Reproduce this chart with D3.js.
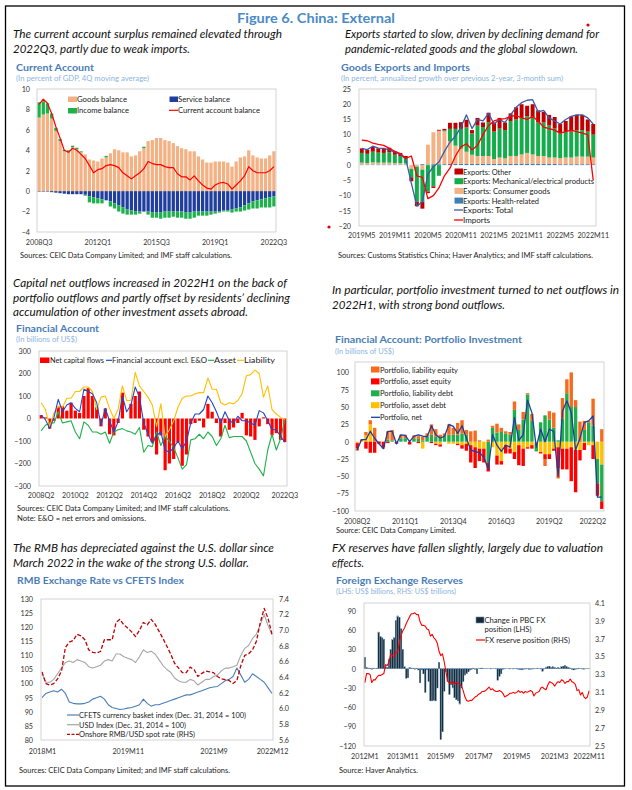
<!DOCTYPE html>
<html><head><meta charset="utf-8">
<script src="https://cdn.jsdelivr.net/npm/d3@7"></script>
<style>body{margin:0;background:#fff}</style>
</head><body>
<script>
// ================= DATA =================
function quarterLabels(y,q,n){const a=[];for(let i=0;i<n;i++){a.push(y+"Q"+q);q++;if(q>4){q=1;y++;}}return a;}
function monthLabels(y,m,n){const a=[];for(let i=0;i<n;i++){a.push(y+"M"+m);m++;if(m>12){m=1;y++;}}return a;}

// Current account (2008Q3-2022Q3), % of GDP
const caCats = quarterLabels(2008,3,57);
const caGoods = [7.2,7.5,7.6,7.1,5.9,4.9,3.9,3.8,4.3,4.1, 3.8,3.6,3.1,3.0,2.9,3.2,3.3,3.7,4.1,4.0, 3.8,3.8,3.4,3.5,3.9,4.2,4.9,5.0,5.2,5.2, 5.0,4.9,4.7,4.4,4.2,4.1,3.9,3.9,3.4,3.1, 2.8,2.8,2.9,2.9,2.9,2.8,2.4,2.9,3.3,3.4, 4.0,3.5,3.3,3.2,3.2,3.5,3.9];
const caService = [-0.05,-0.05,-0.05,-0.1,-0.15,-0.2,-0.25,-0.3,-0.3,-0.3, -0.3,-0.35,-0.5,-0.6,-0.7,-0.8,-0.9,-1.0,-1.2,-1.4, -1.6,-1.8,-1.9,-2.0,-2.0,-2.0,-2.0,-2.1,-2.1,-2.1, -2.0,-2.0,-2.0,-2.0,-2.0,-2.1,-2.1,-2.0,-2.0,-2.0, -2.0,-2.0,-2.0,-2.0,-1.9,-1.9,-1.8,-1.7,-1.6,-1.4, -1.2,-1.0,-0.9,-0.8,-0.7,-0.6,-0.5];
const caIncome = [1.5,1.3,1.0,0.5,0.3,0.2,0.15,0.2,0.15,0.15, 0.1,-0.1,-0.6,-0.6,-0.5,-0.4,0.15,-0.5,-0.5,-0.6, -0.6,-0.5,-0.4,-0.3,-0.2,0.15,-0.3,-0.5,-0.5,-0.6, -0.6,-0.6,-0.5,-0.6,-0.6,-0.6,-0.6,-0.6,-0.4,-0.4, -0.4,-0.3,-0.2,-0.1,-0.1,-0.1,-0.3,-0.3,-0.4,-0.5, -0.6,-0.7,-0.8,-0.8,-0.9,-1.0,-1.0];
const caBalance = [8.5,9.0,8.6,7.6,6.3,5.2,4.0,3.8,4.2,4.0, 3.6,3.2,2.5,1.8,2.1,2.2,2.5,2.6,2.5,2.3, 1.8,1.5,1.2,1.5,1.8,2.2,2.9,2.7,2.6,2.6, 2.4,2.3,2.3,1.7,1.4,1.4,1.1,1.5,1.0,0.6, 0.3,0.2,0.6,0.8,0.85,0.7,0.2,0.6,1.0,1.5, 2.4,2.0,1.8,1.8,1.8,2.0,2.4];
const caYTicks = [-4,-2,0,2,4,6,8,10];

// Goods exports and imports (2019M5-2022M11), %
const exCats = monthLabels(2019,5,43);
const exHealth = [0.2,0.2,0.2,0.2,0.2,0.2,0.2,0.2,0.2,0.0, 0.1,0.3,0.2,0.3,0.3,0.3,0.4,0.4,0.4,0.4, 0.4,0.4,0.4,0.4,0.4,0.4,0.4,0.4,0.4,0.5, 0.5,0.5,0.5,0.4,0.4,0.4,0.3,0.3,0.3,0.3, 0.3,0.3,0.3];
const exConsumer = [0.6,0.5,0.7,0.6,0.6,0.6,0.5,0.4,0.3,-1.2, -0.5,-1.5,6.5,10.5,11.0,10.8,7.5,6.0,5.0,4.0, 3.0,2.6,2.6,2.6,1.6,2.1,1.8,2.6,2.6,3.0, 3.5,3.0,2.5,2.6,2.1,2.1,2.0,2.2,2.2,2.5, 2.5,2.5,2.2];
const exMech = [3.2,3.0,3.5,3.3,3.2,3.4,2.7,2.4,1.8,-2.8, -11.5,-10.5,-8.7,-7.0,-3.5,0.3,4.0,5.5,6.5,8.0, 7.0,10.0,9.5,11.0,9.0,9.5,9.3,11.5,12.0,12.0, 12.0,12.0,11.0,11.0,10.5,9.5,8.2,8.5,8.5,8.7, 8.7,8.2,7.5];
const exOther = [1.5,1.3,1.6,1.4,1.4,1.5,1.1,1.0,0.7,-1.3, -1.5,-2.3,-0.5,-0.5,0.3,0.5,2.0,2.0,2.2,2.5, 1.1,2.5,1.5,3.2,3.0,3.5,2.5,2.5,4.0,4.5, 3.5,4.5,4.0,3.5,3.5,3.8,3.0,3.5,5.0,5.0, 5.0,4.0,3.5];
const exTotal = [5.5,5.1,6.2,5.6,5.5,5.0,4.3,3.5,2.0,-6.0, -13.5,-12.0,-3.0,-0.5,1.0,4.5,7.5,9.5,12.5,16.5, 12.0,15.0,14.5,17.0,13.5,15.0,14.0,16.5,19.0,20.5, 21.3,21.5,17.5,18.0,15.5,14.5,13.5,15.0,16.0,16.5, 16.5,15.5,13.5];
const imTotal = [8.2,8.0,7.2,6.8,6.5,5.5,4.5,3.8,2.2,3.0, -3.5,-4.0,-11.0,-10.0,-7.5,-3.5,-1.0,3.0,6.0,7.0, 5.0,6.5,10.0,13.0,14.5,15.0,15.3,16.0,16.3,15.5, 15.0,16.0,14.5,12.5,12.0,11.5,10.5,11.0,11.5,11.0, 10.5,10.0,-5.0];
const exYTicks = [-20,-15,-10,-5,0,5,10,15,20,25];

// Financial account (2008Q2-2022Q3), US$ bn
const faCats = quarterLabels(2008,2,58);
const faNetFlows = [15,5,-45,-10,50,55,35,70,35,25, 100,135,100,50,-35,45,-70,-75,-20,115, 0,65,100,120,-50,-80,-105,-160,-75,-230, -200,-180,-105,-210,-160,-25,-20,-10,-40,65, 30,-20,-80,-20,-50,-40,-20,25,-75,-80, -95,-35,5,-25,-75,-65,-95,-105];
const faExclEO = [15,-5,-45,5,85,30,60,70,45,30, 130,120,110,70,-30,45,-10,-60,-15,100, 30,60,140,95,-20,-70,-110,-75,-60,-140, -150,-130,-100,-135,-100,-20,20,20,40,100, 70,30,-20,30,-10,-20,10,-10,-10,-20, -30,35,25,-10,-50,-50,-80,-105];
const faAsset = [-55,-30,-20,-20,30,-20,-15,-10,-60,-90, -15,-30,-60,-60,-70,-60,-110,-60,-50,-45, -55,-60,-70,-40,-150,-120,-125,-60,-120,-80, -100,-130,-175,-225,-205,-95,-90,-70,-90,-60, -80,-120,-90,-30,-85,-80,-80,-80,-100,-150, -200,-225,-255,-140,-70,-140,-90,-5];
const faLiability = [70,40,-35,25,55,50,90,90,120,120, 140,140,120,40,95,100,45,0,40,145, 80,80,205,145,120,95,60,-35,65,-80, -50,-10,50,90,100,100,110,115,115,180, 130,130,70,60,70,65,80,110,190,195, 215,200,95,145,40,20,5,-5];
const faYTicks = [-300,-200,-100,0,100,200,300];

// Portfolio investment (2008Q2-2022Q2), US$ bn
const pfCats = quarterLabels(2008,2,57);
const pfLiabEquity = [-3,2,5,6,20,1,-2,12,15,0, 5,5,0,5,4,5,5,15,11,5, 4,15,10,17,19,7,15,16,2,0, 3,3,13,6,3,4,12,8,11,2, 10,0,0,-10,12,22,-15,30,20,50, 10,29,13,2,39,0,18];
const pfAssetEquity = [-8,0,-10,-16,-16,-3,-8,-2,0,-3, 0,0,-4,0,-2,0,0,-2,-2,-3, 0,0,0,-2,-5,-10,-25,-30,-18,-20, -13,0,-13,-5,-12,-7,-10,-29,-25,-2, -5,0,-2,-7,-7,-3,-30,-30,-30,-49, -61,-15,-10,0,-20,-18,-11];
const pfLiabDebt = [0,0,0,0,0,0,0,3,2,0, 5,5,0,4,4,2,7,10,7,5, 8,10,10,10,12,10,0,0,0,0, -30,20,13,14,12,10,46,17,32,68, 30,-12,28,38,32,20,2,33,70,50, 50,0,17,28,23,-35,-53];
const pfAssetDebt = [-2,1,9,25,0,0,0,0,0,0, 0,0,0,0,0,-10,0,0,-3,-4, 0,-3,-3,-3,-5,-3,-5,-8,-10,-10, 0,-8,-20,-28,-5,-10,-15,-5,-10,-8, -5,-2,-15,-18,-18,-10,-8,-10,-10,-8, -12,-12,-2,-5,-5,-25,-33];
const pfNet = [-12,3,3,15,5,-3,-10,15,15,-3, 10,9,0,8,10,8,7,23,10,5, 8,25,22,12,23,5,-12,-14,-16,-22, -40,10,-5,-14,-5,-8,35,2,10,60, 42,-8,18,0,18,15,-50,44,59,42, -12,5,28,30,37,-80,-80];
const pfYTicks = [-100,-75,-50,-25,0,25,50,75,100];

// RMB exchange rate (2018M1-2022M12), monthly
const rmbCats = monthLabels(2018,1,60);
const rmbCfets = [95.0,96.5,97.0,97.5,97.0,98.0,96.5,93.5,93.0,92.8, 92.8,93.0,93.5,94.5,95.0,95.5,94.5,92.5,91.5,91.2, 90.8,91.0,91.3,91.5,92.0,92.5,94.5,93.0,92.0,92.5, 92.5,93.0,93.5,94.0,94.5,95.0,95.5,96.0,96.0,96.5, 97.0,97.5,98.0,98.5,98.8,99.0,100.0,101.0,101.5,102.5, 105.5,103.0,100.5,101.5,103.5,102.5,101.5,100.5,98.5,96.5];
const rmbUsdIndex = [103.5,100.5,100.5,101.5,103.5,105.5,107.5,108.0,107.5,108.5, 108.0,107.5,106.0,105.5,106.0,106.5,108.0,108.5,108.0,110.5, 110.5,109.5,109.0,108.5,107.5,109.5,112.0,111.0,111.5,110.5, 108.5,106.5,105.0,104.0,102.0,101.0,100.5,100.5,101.5,101.0, 99.5,100.5,101.5,101.5,102.5,103.0,104.5,105.5,105.5,106.0, 106.5,110.0,112.5,113.5,116.0,117.5,121.0,124.5,120.5,117.5];
const rmbSpot = [6.47,6.32,6.30,6.32,6.38,6.48,6.78,6.85,6.87,6.95, 6.93,6.88,6.75,6.72,6.71,6.73,6.88,6.88,6.88,7.10, 7.14,7.07,7.03,6.98,6.92,7.00,7.10,7.07,7.14,7.08, 6.99,6.90,6.80,6.70,6.58,6.52,6.46,6.46,6.53,6.50, 6.41,6.45,6.48,6.47,6.46,6.41,6.38,6.37,6.36,6.32, 6.36,6.55,6.68,6.70,6.75,6.86,7.10,7.28,7.15,6.95];
const rmbLTicks = [80,85,90,95,100,105,110,115,120,125,130];
const rmbRTicks = [5.6,5.8,6.0,6.2,6.4,6.6,6.8,7.0,7.2,7.4];

// FX reserves (2012M1-2022M11)
const fxCats = monthLabels(2012,1,131);
const fxChange = [18,2,1,1,-1,1,0.5,1,57,50, 48,46,3,2,15,30,45,48,75,82, 80,62,30,3,-15,-14,2,1,1,-1,
  1,-2,-22,-2,-8,-37,-2,-20,-50,-50, -49,-50,-30,10,-110,-98,-35,-5,-20,-40, -25,-30,-45,-48,-50,-55,-30,-20,-10,-8, -5,-2,-1,
  1,-1,-8,0.5,1,1,0.5,0.5, 0.5,0.3,-0.5,0.5,0.3,-0.3,-18,-12,-8,-1, -0.5,0.3,0.3,-0.5,0.3,-0.5,0.5,-0.3,-1,-1.5,
  -2,-1,-0.5,-0.5,-1,-1,-0.5,-0.5,0.5,1, 0.5,-0.5,-4,-0.5,2,3,4,2,3,2, 1,2,1,3,4,5,3,2,1,-1, -2,-1,-0.5,1,0.5,-0.5,-1,0.5,0.5,0.5];
const fxReserves = [3.21,3.31,3.31,3.30,3.21,3.24,3.24,3.27,3.29,3.29,3.30,3.31,
  3.41,3.40,3.44,3.53,3.51,3.50,3.55,3.55,3.66,3.74,3.79,3.82,
  3.87,3.91,3.95,3.98,3.98,3.99,3.97,3.97,3.89,3.85,3.85,3.84,
  3.81,3.80,3.73,3.75,3.71,3.69,3.65,3.56,3.51,3.53,3.44,3.33,
  3.23,3.20,3.21,3.22,3.19,3.21,3.20,3.19,3.17,3.12,3.05,3.01,
  3.00,3.01,3.01,3.03,3.05,3.06,3.08,3.09,3.11,3.11,3.12,3.14,
  3.16,3.13,3.14,3.12,3.11,3.11,3.12,3.11,3.09,3.05,3.06,3.07,
  3.09,3.09,3.10,3.09,3.10,3.12,3.10,3.11,3.09,3.11,3.10,3.11,
  3.12,3.11,3.06,3.09,3.10,3.11,3.15,3.16,3.14,3.13,3.18,3.22,
  3.21,3.20,3.17,3.20,3.22,3.21,3.24,3.23,3.20,3.22,3.22,3.25,
  3.22,3.21,3.19,3.12,3.13,3.07,3.10,3.05,3.03,3.05,3.12];
const fxLTicks = [-120,-90,-60,-30,0,30,60,90];
const fxRTicks = [2.5,2.7,2.9,3.1,3.3,3.5,3.7,3.9,4.1];

// ================= DRAWING =================
const FONT = "Lato, 'Open Sans', sans-serif";
const svg = d3.select("body").append("svg").attr("width",632).attr("height",790).attr("font-family",FONT);
svg.append("rect").attr("width",632).attr("height",790).attr("fill","#fff");
svg.append("rect").attr("x",5.5).attr("y",6).attr("width",619).attr("height",780).attr("fill","none").attr("stroke","#000").attr("stroke-width",1.3);

function T(x,y,s,o={}){
  const t = svg.append("text").attr("x",x).attr("y",y).text(s)
    .attr("font-size",o.size||8).attr("fill",o.fill||"#222");
  if(o.weight) t.attr("font-weight",o.weight);
  if(o.italic) t.attr("font-style","italic");
  if(o.anchor) t.attr("text-anchor",o.anchor);
  if(o.w) t.attr("textLength",o.w).attr("lengthAdjust","spacingAndGlyphs");
  return t;
}
const NARR = {size:11.3, italic:true, fill:"#111"};
const TITLE = {size:10, weight:"bold", fill:"#4a7db6"};
const SUB = {size:6.8, fill:"#8db3df"};
const SRC = {size:7, fill:"#222"};
const LEG = {size:7.8, fill:"#222"};

function styleAxis(g){
  g.attr("font-family",FONT);
  g.select(".domain").remove();
  g.selectAll(".tick line").remove();
  g.selectAll("text").attr("font-size",7.2).attr("fill","#333");
}
function box(x0,y0,x1,y1){
  svg.append("rect").attr("x",x0).attr("y",y0).attr("width",x1-x0).attr("height",y1-y0)
    .attr("fill","none").attr("stroke","#c8c8c8").attr("stroke-width",0.8);
}
function stackBars(cats, rows, keys, colors, x, y){
  const series = d3.stack().keys(keys).offset(d3.stackOffsetDiverging)(rows);
  series.forEach((s,k)=>{
    svg.append("g").attr("fill",colors[k]).selectAll("rect").data(s).join("rect")
      .attr("x",(d,i)=>x(cats[i])).attr("width",x.bandwidth())
      .attr("y",d=>y(Math.max(d[0],d[1]))).attr("height",d=>Math.abs(y(d[0])-y(d[1])));
  });
}
function line(vals, xf, y, color, width, dash){
  const p = svg.append("path").datum(vals).attr("fill","none").attr("stroke",color)
    .attr("stroke-width",width).attr("stroke-linejoin","round")
    .attr("d", d3.line().x((d,i)=>xf(i)).y(d=>y(d)));
  if(dash) p.attr("stroke-dasharray",dash);
  return p;
}

// ---------- Title ----------
T(316,23,"Figure 6. China: External",{size:14,weight:"bold",fill:"#4a8ac6",anchor:"middle",w:158});

// ---------- Panel 1: Current Account ----------
T(13,38,"The current account surplus remained elevated through",{...NARR,w:269});
T(13,53,"2022Q3, partly due to weak imports.",{...NARR,w:177});
T(16,71,"Current Account",{...TITLE,w:78});
T(16,81,"(In percent of GDP, 4Q moving average)",{...SUB,w:133});
{
  const x = d3.scaleBand().domain(caCats).range([37,276]).paddingInner(0.22).paddingOuter(0.11);
  const y = d3.scaleLinear().domain([-4,10]).range([232,89]);
  const rows = caCats.map((c,i)=>({goods:caGoods[i],service:caService[i],income:caIncome[i]}));
  stackBars(caCats, rows, ["goods","service","income"], ["#f4b183","#1f3e9e","#1db14b"], x, y);
  line(caBalance, i=>x(caCats[i])+x.bandwidth()/2, y, "#ff0000", 1.2);
  box(37,89,276,232);
  svg.append("g").attr("transform","translate(37,0)").call(d3.axisLeft(y).tickValues(caYTicks).tickSize(0).tickPadding(7)).call(styleAxis);
  svg.append("g").attr("transform","translate(0,232)").call(d3.axisBottom(x).tickValues([0,14,28,42,56].map(i=>caCats[i])).tickSize(0).tickPadding(7.5)).call(styleAxis);
  svg.append("rect").attr("x",68).attr("y",96.5).attr("width",9).attr("height",5.5).attr("fill","#f4b183");
  T(77,101.5,"Goods balance",{...LEG,w:50});
  svg.append("rect").attr("x",169.5).attr("y",96.5).attr("width",8.5).attr("height",5.5).attr("fill","#1f3e9e");
  T(178,101.5,"Service balance",{...LEG,w:52});
  svg.append("rect").attr("x",68).attr("y",108).attr("width",9).attr("height",5.5).attr("fill","#1db14b");
  T(77,113,"Income balance",{...LEG,w:52});
  svg.append("line").attr("x1",169).attr("x2",178).attr("y1",110.3).attr("y2",110.3).attr("stroke","#ff0000").attr("stroke-width",1.2);
  T(178,113,"Current account balance",{...LEG,w:82});
}
T(20,258,"Sources: CEIC Data Company Limited; and IMF staff calculations.",{...SRC,w:212});

// ---------- Panel 2: Goods exports and imports ----------
T(345,38,"Exports started to slow, driven by declining demand for",{...NARR,w:254});
T(345,53,"pandemic-related goods and the global slowdown.",{...NARR,w:233});
T(341,71,"Goods Exports and Imports",{...TITLE,w:129});
T(341,81,"(In percent, annualized growth over previous 2-year, 3-month sum)",{...SUB,w:222});
{
  const x = d3.scaleBand().domain(exCats).range([359,596]).paddingInner(0.28).paddingOuter(0.14);
  const y = d3.scaleLinear().domain([-20,25]).range([226,89]);
  const rows = exCats.map((c,i)=>({h:exHealth[i],c:exConsumer[i],m:exMech[i],o:exOther[i]}));
  const cols = ["#3f7fb3","#f4b183","#13ad4b","#c00000"];
  stackBars(exCats, rows, ["h","c","m","o"], cols, x, y);
  const xc = i=>x(exCats[i])+x.bandwidth()/2;
  line(exTotal, xc, y, "#3b5ca8", 1.3);
  line(imTotal, xc, y, "#ff0000", 1.3);
  box(359,89,596,226);
  svg.append("g").attr("transform","translate(359,0)").call(d3.axisLeft(y).tickValues(exYTicks).tickSize(0).tickPadding(8)).call(styleAxis);
  svg.append("g").attr("transform","translate(0,226)").call(d3.axisBottom(x).tickValues([0,6,12,18,24,30,36,42].map(i=>exCats[i])).tickSize(0).tickPadding(6.5)).call(styleAxis);
  const leg = [["Exports: Other",cols[3],48],["Exports: Mechanical/electrical products",cols[2],131],["Exports: Consumer goods",cols[1],87],["Exports: Health-related",cols[0],76]];
  leg.forEach((d,k)=>{
    svg.append("rect").attr("x",454.5).attr("y",168.5+k*9.7).attr("width",8.5).attr("height",6).attr("fill",d[1]);
    T(463,174.5+k*9.7,d[0],{...LEG,size:7.6,w:d[2]});
  });
  svg.append("line").attr("x1",454).attr("x2",463).attr("y1",210).attr("y2",210).attr("stroke","#3b5ca8").attr("stroke-width",1.3);
  T(463,213,"Exports: Total",{...LEG,size:7.6,w:50});
  svg.append("line").attr("x1",454).attr("x2",463).attr("y1",220).attr("y2",220).attr("stroke","#ff0000").attr("stroke-width",1.3);
  T(463,223,"Imports",{...LEG,size:7.6,w:27});
}
T(338,258,"Sources: Customs Statistics China; Haver Analytics; and IMF staff calculations.",{...SRC,w:255});
svg.append("circle").attr("cx",588).attr("cy",25).attr("r",1.6).attr("fill","#e00000");
svg.append("circle").attr("cx",329).attr("cy",227).attr("r",1.6).attr("fill","#e00000");

// ---------- Panel 3: Financial Account ----------
T(13,287,"Capital net outflows increased in 2022H1 on the back of",{...NARR,w:274});
T(13,302,"portfolio outflows and partly offset by residents\u2019 declining",{...NARR,w:277});
T(13,316,"accumulation of other investment assets abroad.",{...NARR,w:235});
T(16,332,"Financial Account",{...TITLE,w:83});
T(16,342,"(In billions of US$)",{...SUB,w:61});
{
  const x = d3.scaleBand().domain(faCats).range([39,287]).paddingInner(0.25).paddingOuter(0.125);
  const y = d3.scaleLinear().domain([-300,300]).range([486,351]);
  svg.append("g").attr("fill","#ff0000").selectAll("rect").data(faNetFlows).join("rect")
    .attr("x",(d,i)=>x(faCats[i])).attr("width",x.bandwidth())
    .attr("y",d=>y(Math.max(0,d))).attr("height",d=>Math.abs(y(d)-y(0)));
  const xc = i=>x(faCats[i])+x.bandwidth()/2;
  line(faAsset, xc, y, "#21b04b", 1.1);
  line(faLiability, xc, y, "#ffc000", 1.1);
  line(faExclEO, xc, y, "#2447c4", 1.1);
  box(39,351,287,486);
  svg.append("g").attr("transform","translate(39,0)").call(d3.axisLeft(y).tickValues(faYTicks).tickSize(0).tickPadding(8)).call(styleAxis);
  svg.append("g").attr("transform","translate(0,486)").call(d3.axisBottom(x).tickValues([0,8,16,24,32,40,48,57].map(i=>faCats[i])).tickSize(0).tickPadding(6.5)).call(styleAxis);
  svg.append("rect").attr("x",40).attr("y",357.5).attr("width",9.5).attr("height",5.5).attr("fill","#ff0000");
  T(50,363,"Net capital flows",{...LEG,w:54});
  [[106,112,"#2447c4","Financial account excl. E&O",95],[208,214,"#21b04b","Asset",22],[237,244,"#ffc000","Liability",31]].forEach(d=>{
    svg.append("line").attr("x1",d[0]).attr("x2",d[1]).attr("y1",360.3).attr("y2",360.3).attr("stroke",d[2]).attr("stroke-width",1.2);
    T(d[1],363,d[3],{...LEG,w:d[4]});
  });
}
T(17,511,"Sources: CEIC Data Company Limited; and IMF staff calculations.",{...SRC,w:213});
T(17,521,"Note: E&O = net errors and omissions.",{...SRC,w:129});

// ---------- Panel 4: Portfolio investment ----------
T(332,294,"In particular, portfolio investment turned to net outflows in",{...NARR,w:287});
T(332,309,"2022H1, with strong bond outflows.",{...NARR,w:173});
T(335,343,"Financial Account: Portfolio Investment",{...TITLE,w:187});
T(335,354,"(In billions of US$)",{...SUB,w:59});
{
  const x = d3.scaleBand().domain(pfCats).range([355,604]).paddingInner(0.22).paddingOuter(0.11);
  const y = d3.scaleLinear().domain([-100,115]).range([511,362]);
  const rows = pfCats.map((c,i)=>({ad:pfAssetDebt[i],ld:pfLiabDebt[i],ae:pfAssetEquity[i],le:pfLiabEquity[i]}));
  const cols = {le:"#f7691c",ae:"#ff0000",ld:"#1fae4b",ad:"#ffc000"};
  stackBars(pfCats, rows, ["ad","ld","ae","le"], [cols.ad,cols.ld,cols.ae,cols.le], x, y);
  line(pfNet, i=>x(pfCats[i])+x.bandwidth()/2, y, "#1f3e9e", 1.3);
  box(355,362,604,511);
  svg.append("g").attr("transform","translate(355,0)").call(d3.axisLeft(y).tickValues(pfYTicks).tickSize(0).tickPadding(6)).call(styleAxis);
  const ax = svg.append("g").attr("transform","translate(0,511)").call(d3.axisBottom(x).tickValues([0,11,22,33,44,56].map(i=>pfCats[i])).tickSize(0).tickPadding(7.5)).call(styleAxis);
  ax.selectAll(".tick:last-of-type text").attr("dx",-9);
  const leg = [["Portfolio, liability equity",cols.le,78],["Portfolio, asset equity",cols.ae,71],["Portfolio, liability debt",cols.ld,73],["Portfolio, asset debt",cols.ad,66]];
  leg.forEach((d,k)=>{
    svg.append("rect").attr("x",371).attr("y",366.5+k*11.9).attr("width",8.5).attr("height",6).attr("fill",d[1]);
    T(380,372.5+k*11.9,d[0],{...LEG,w:d[2]});
  });
  svg.append("line").attr("x1",371).attr("x2",380).attr("y1",417.3).attr("y2",417.3).attr("stroke","#1f3e9e").attr("stroke-width",1.3);
  T(380,420,"Portfolio, net",{...LEG,w:42});
}
T(336,533,"Source: CEIC Data Company Limited.",{...SRC,w:120});

// ---------- Panel 5: RMB ----------
T(13,552,"The RMB has depreciated against the U.S. dollar since",{...NARR,w:261});
T(13,567,"March 2022 in the wake of the strong U.S. dollar.",{...NARR,w:236});
T(17,584,"RMB Exchange Rate vs CFETS Index",{...TITLE,w:167});
{
  const x = d3.scaleLinear().domain([0,59]).range([42,272]);
  const yl = d3.scaleLinear().domain([80,130]).range([740,599]);
  const yr = d3.scaleLinear().domain([5.6,7.4]).range([740,599]);
  line(rmbUsdIndex, x, yl, "#a6a6a6", 1.1);
  line(rmbCfets, x, yl, "#4a7ebb", 1.1);
  line(rmbSpot, x, yr, "#c00000", 1.3, "4,2");
  box(41,599,273,740);
  svg.append("g").attr("transform","translate(41,0)").call(d3.axisLeft(yl).tickValues(rmbLTicks).tickSize(0).tickPadding(8)).call(styleAxis);
  svg.append("g").attr("transform","translate(273,0)").call(d3.axisRight(yr).tickValues(rmbRTicks).tickFormat(d3.format(".1f")).tickSize(0).tickPadding(6)).call(styleAxis);
  svg.append("g").attr("transform","translate(0,740)").call(d3.axisBottom(x).tickValues([0,22,44,59]).tickFormat(i=>rmbCats[i]).tickSize(0).tickPadding(8.5)).call(styleAxis);
  [["#4a7ebb",null,"CFETS currency basket index (Dec. 31, 2014 = 100)",167],["#a6a6a6",null,"USD Index (Dec. 31, 2014 = 100)",107],["#c00000","3,1.5","Onshore RMB/USD spot rate (RHS)",116]].forEach((d,k)=>{
    const yy = 715+k*9.7;
    const l = svg.append("line").attr("x1",67).attr("x2",79).attr("y1",yy).attr("y2",yy).attr("stroke",d[0]).attr("stroke-width",1.2);
    if(d[1]) l.attr("stroke-dasharray",d[1]);
    T(79,yy+2.8,d[2],{...LEG,w:d[3]});
  });
}
T(19,773,"Sources: CEIC Data Company Limited; and IMF staff calculations.",{...SRC,w:211});

// ---------- Panel 6: FX reserves ----------
T(332,552,"FX reserves have fallen slightly, largely due to valuation",{...NARR,w:271});
T(332,567,"effects.",{...NARR,w:32});
T(336,584,"Foreign Exchange Reserves",{...TITLE,w:127});
T(336,594,"(LHS: US$ billions, RHS: US$ trillions)",{...SUB,w:120});
{
  const x = d3.scaleBand().domain(fxCats).range([364,590]).paddingInner(0.08).paddingOuter(0.04);
  const yl = d3.scaleLinear().domain([-120,102]).range([746,603]);
  const yr = d3.scaleLinear().domain([2.5,4.1]).range([746,603]);
  svg.append("g").attr("fill","#1b2935").attr("stroke","#5f93bb").attr("stroke-width",0.35)
    .selectAll("rect").data(fxChange).join("rect")
    .attr("x",(d,i)=>x(fxCats[i])).attr("width",x.bandwidth())
    .attr("y",d=>yl(Math.max(0,d))).attr("height",d=>Math.abs(yl(d)-yl(0)));
  line(fxReserves, i=>x(fxCats[i])+x.bandwidth()/2, yr, "#ff0000", 1.1);
  box(364,603,590,746);
  svg.append("g").attr("transform","translate(364,0)").call(d3.axisLeft(yl).tickValues(fxLTicks).tickSize(0).tickPadding(8)).call(styleAxis);
  svg.append("g").attr("transform","translate(590,0)").call(d3.axisRight(yr).tickValues(fxRTicks).tickFormat(d3.format(".1f")).tickSize(0).tickPadding(5)).call(styleAxis);
  svg.append("g").attr("transform","translate(0,746)").call(d3.axisBottom(x).tickValues([0,22,44,66,88,110,130].map(i=>fxCats[i])).tickSize(0).tickPadding(7.5)).call(styleAxis);
  svg.append("rect").attr("x",476).attr("y",617).attr("width",8).attr("height",6).attr("fill","#1b2935").attr("stroke","#5f93bb").attr("stroke-width",0.6);
  T(484.5,623,"Change in PBC FX",{...LEG,w:61});
  T(484.5,632,"position (LHS)",{...LEG,w:47});
  svg.append("line").attr("x1",476).attr("x2",485).attr("y1",640).attr("y2",640).attr("stroke","#ff0000").attr("stroke-width",1.2);
  T(485,643,"FX reserve position (RHS)",{...LEG,w:85});
}
T(339,773,"Source: Haver Analytics.",{...SRC,w:79});
</script>
</body></html>
